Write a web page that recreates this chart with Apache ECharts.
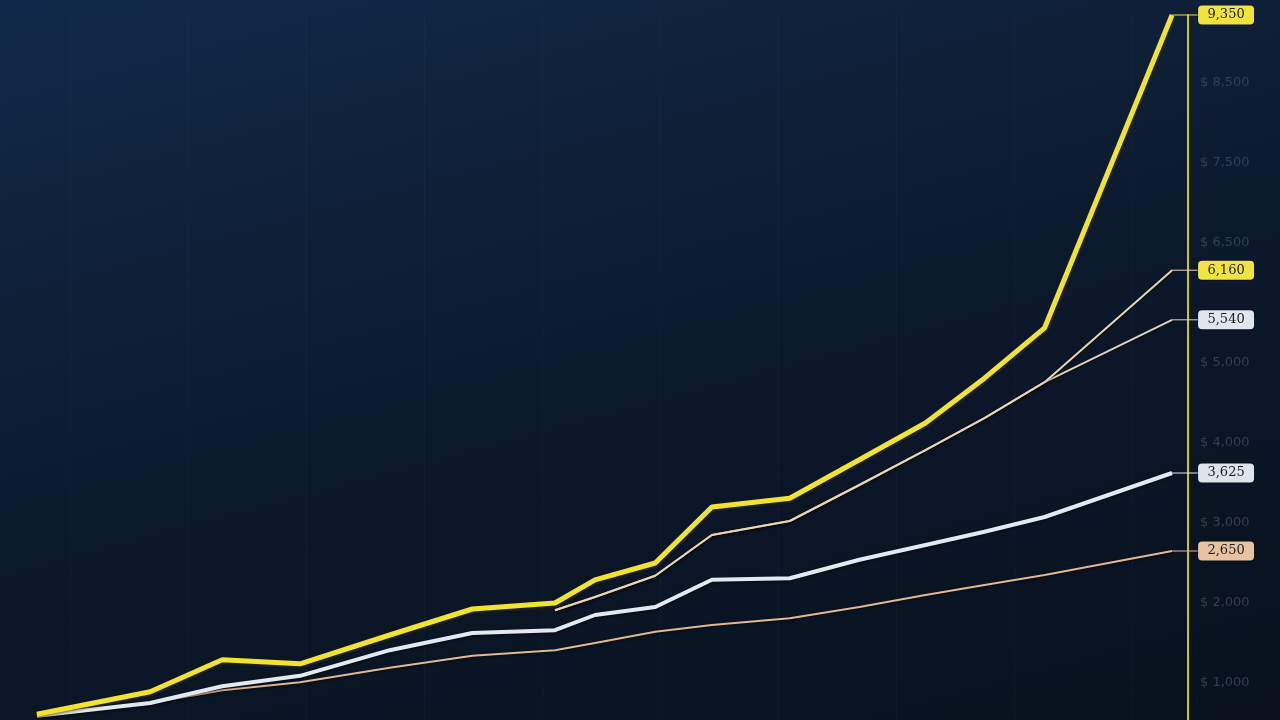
<!DOCTYPE html>
<html>
<head>
<meta charset="utf-8">
<script src="https://cdn.jsdelivr.net/npm/echarts@6/dist/echarts.min.js"></script>
<style>
html,body{margin:0;padding:0;width:1280px;height:720px;overflow:hidden;
background:linear-gradient(165deg,#11294a 0%,#0e2038 30%,#0b1729 60%,#08111d 100%);}
#c{width:1280px;height:720px;}
</style>
</head>
<body>
<div id="c"></div>
<script>
// x positions (periods)
const periods = [7.2, 16.8, 22.9, 29.5, 37.1, 44.1, 51.1, 54.5, 59.6, 64.4, 71.0, 76.9, 82.5, 87.5, 92.6, 103.4];
// series values
const seriesYellow = [610, 890, 1290, 1240, 1600, 1925, 2000, 2290, 2500, 3200, 3310, 3790, 4250, 4810, 5440, 9350];
const seriesTanHigh = [null, null, null, null, null, null, 1910, 2075, 2340, 2850, 3025, 3475, 3910, 4310, 4760, 6160];
const seriesTanMid  = [null, null, null, null, null, null, 1910, 2075, 2340, 2850, 3025, 3475, 3910, 4310, 4760, 5540];
const seriesWhite = [590, 750, 960, 1090, 1410, 1625, 1660, 1850, 1950, 2290, 2310, 2540, 2725, 2890, 3075, 3625];
const seriesPeach = [590, 750, 910, 1010, 1190, 1340, 1410, 1500, 1640, 1725, 1810, 1950, 2100, 2225, 2350, 2650];
// tick labels
const yTickValues = [1000, 2000, 3000, 4000, 5000, 6500, 7500, 8500];
const xGridValues = [10, 20, 30, 40, 50, 60, 70, 80, 90, 100];
const yRange = {min: 537.5, max: 9350};
const xRange = {min: 4.07, max: 104.75};

function pairs(vals){ return vals.map((v,i)=> [periods[i], v]); }
function fmt(v){ return v.toLocaleString('en-US'); }

function endLab(bg, lineColor){
  return {
    show: true, distance: 0,
    formatter: p => '{l|}{b|' + fmt(p.value[1]) + '}',
    rich: {
      l: {width: 26, height: 1, backgroundColor: lineColor},
      b: {backgroundColor: bg, color: '#1c1c1c', fontSize: 13, fontFamily: 'DejaVu Serif',
          padding: [3, 8, 3, 8], borderRadius: 4, width: 40, align: 'center',
          borderColor: 'rgba(0,0,0,0.35)', borderWidth: 1}
    }
  };
}

function line(name, vals, color, width, bg, z, shadow){
  return {
    name, type: 'line', data: pairs(vals), symbol: 'none', z,
    connectNulls: false,
    lineStyle: {color, width, shadowColor: shadow || 'rgba(0,0,0,0.6)', shadowBlur: 3, shadowOffsetY: 1},
    endLabel: endLab(bg, color),
    emphasis: {disabled: true}
  };
}

const chart = echarts.init(document.getElementById('c'));
chart.setOption({
  backgroundColor: 'transparent',
  animation: false,
  grid: {left: 0, right: 92, top: 15, bottom: 0, containLabel: false},
  xAxis: {
    type: 'value', min: xRange.min, max: xRange.max,
    axisLine: {show: false},
    axisTick: {show: false, customValues: xGridValues},
    axisLabel: {show: false, customValues: xGridValues},
    splitLine: {show: true, lineStyle: {color: 'rgba(150,170,200,0.06)', type: 'dashed', width: 1}}
  },
  yAxis: {
    type: 'value', position: 'right', min: yRange.min, max: yRange.max,
    axisLine: {show: true, onZero: false, lineStyle: {color: '#d4c02e', width: 2}},
    axisTick: {show: false, customValues: yTickValues},
    splitLine: {show: false},
    axisLabel: {color: '#2f4153', fontSize: 13, margin: 12, customValues: yTickValues,
      fontFamily: 'DejaVu Sans', formatter: v => '$ ' + fmt(v)}
  },
  series: [
    line('Peach', seriesPeach, '#e3b892', 2, '#e8c3a0', 2),
    line('TanMid', seriesTanMid, '#e2d2b8', 2, '#dfe6ee', 3),
    line('TanHigh', seriesTanHigh, '#ecd6ae', 2, '#f2e440', 3),
    line('White', seriesWhite, '#e2e9f1', 4, '#dde4ec', 4),
    line('Yellow', seriesYellow, '#f2e32e', 5, '#f2e33b', 5, 'rgba(60,50,0,0.8)')
  ]
});
</script>
</body>
</html>
